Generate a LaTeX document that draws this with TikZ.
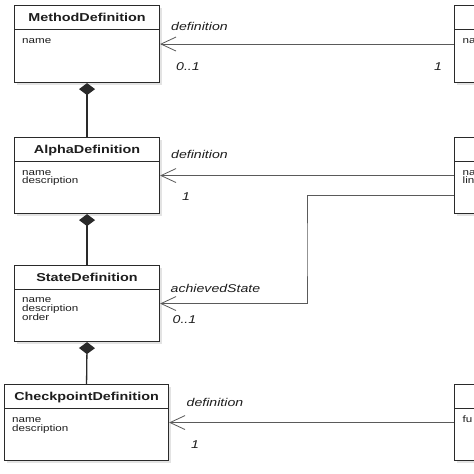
\documentclass[tikz,border=0pt]{standalone}
\usepackage{fontspec}
\setmainfont{Liberation Sans}[FakeStretch=1.25]
\usetikzlibrary{arrows.meta,shadows}
\definecolor{boxc}{HTML}{2A2A2A}
\definecolor{linec}{HTML}{5A5A5A}
\definecolor{txtc}{HTML}{1E1E1E}
\begin{document}
\begin{tikzpicture}[x=1pt,y=-1pt,
  umlbox/.style={draw=boxc, line width=1.1pt, fill=white, anchor=north west, inner sep=0pt,
    drop shadow={opacity=0.22, shadow xshift=2.5pt, shadow yshift=-2.5pt}},
  sepline/.style={draw=boxc, line width=0.9pt},
  title/.style={anchor=base, inner sep=0pt, text=txtc, font=\fontsize{11.5}{13}\selectfont\bfseries},
  attr/.style={anchor=base west, inner sep=0pt, text=txtc, font=\fontsize{9.3}{11}\selectfont},
  lbl/.style={anchor=base west, inner sep=0pt, text=txtc, font=\fontsize{11.3}{13}\selectfont\itshape},
  assoc/.style={draw=linec, line width=0.8pt},
  navarrow/.style={-{Straight Barb[length=15pt,width=14pt,line width=0.8pt]}},
  compo/.style={draw=boxc, line width=1.3pt, {Diamond[length=12pt,width=16pt]}-}
]
\useasboundingbox (0,0) rectangle (474,474);
\fill[white] (0,0) rectangle (474,474);
\clip (0,0) rectangle (474,474);

% left boxes
\node[umlbox, minimum width=145pt, minimum height=77pt] (method) at (14,5) {};
\node[umlbox, minimum width=145pt, minimum height=76pt] (alpha) at (14,137) {};
\node[umlbox, minimum width=145pt, minimum height=76pt] (state) at (14,265) {};
\node[umlbox, minimum width=164pt, minimum height=76pt] (check) at (4,384) {};

% right (clipped) boxes
\node[umlbox, minimum width=120pt, minimum height=77pt] (r1) at (454,5) {};
\node[umlbox, minimum width=120pt, minimum height=76pt] (r2) at (454,137) {};
\node[umlbox, minimum width=120pt, minimum height=76pt] (r3) at (454,384) {};

% separators
\foreach \b in {method,alpha,state,check,r1,r2,r3}{
  \draw[sepline] ([yshift=-24pt]\b.north west) -- ([yshift=-24pt]\b.north east);
}

% titles
\node[title] (tm) at ([yshift=-16.5pt]method.north) {MethodDefinition};
\node[title] (ta) at ([yshift=-16.5pt]alpha.north) {AlphaDefinition};
\node[title] (ts) at ([yshift=-16pt]state.north) {StateDefinition};
\node[title] (tc) at ([yshift=-16.5pt]check.north) {CheckpointDefinition};

% attributes
\node[attr] (am1) at ([xshift=8pt,yshift=-38pt]method.north west) {name};
\node[attr] (aa1) at ([xshift=8pt,yshift=-38pt]alpha.north west) {name};
\node[attr] (aa2) at ([xshift=8pt,yshift=-46pt]alpha.north west) {description};
\node[attr] (as1) at ([xshift=8pt,yshift=-37.5pt]state.north west) {name};
\node[attr] (as2) at ([xshift=8pt,yshift=-46.5pt]state.north west) {description};
\node[attr] (as3) at ([xshift=8pt,yshift=-55.5pt]state.north west) {order};
\node[attr] (ac1) at ([xshift=8pt,yshift=-38pt]check.north west) {name};
\node[attr] (ac2) at ([xshift=8pt,yshift=-47pt]check.north west) {description};
\node[attr] (ar1) at ([xshift=8.5pt,yshift=-38pt]r1.north west) {na};
\node[attr] (ar2) at ([xshift=8.5pt,yshift=-38pt]r2.north west) {na};
\node[attr] (ar3) at ([xshift=8.5pt,yshift=-46pt]r2.north west) {lin};
\node[attr] (ar4) at ([xshift=8.5pt,yshift=-38pt]r3.north west) {fu};

% compositions
\draw[compo] (method.south) -- (alpha.north);
\draw[compo] (alpha.south) -- (state.north);
\draw[compo] (state.south) -- (check.north);

% associations
\coordinate (kink) at (307,250);
\draw[assoc, navarrow] (r1.west) -- (method.east);
\draw[assoc, navarrow] (r2.west) -- (alpha.east);
\draw[assoc, navarrow] ([yshift=-20pt]r2.west) -| (kink) |- (state.east);
\draw[assoc, navarrow] (r3.west) -- (check.east);

% labels
\node[lbl] (l1) at (171,30.5) {definition};
\node[lbl] (l2) at (176,70) {0..1};
\node[lbl] (l3) at (434,70) {1};
\node[lbl] (l4) at (171,158.5) {definition};
\node[lbl] (l5) at (182,200.5) {1};
\node[lbl] (l6) at (170.5,292) {achievedState};
\node[lbl] (l7) at (172.5,323) {0..1};
\node[lbl] (l8) at (186.5,406) {definition};
\node[lbl] (l9) at (191,448.5) {1};
\end{tikzpicture}
\end{document}
